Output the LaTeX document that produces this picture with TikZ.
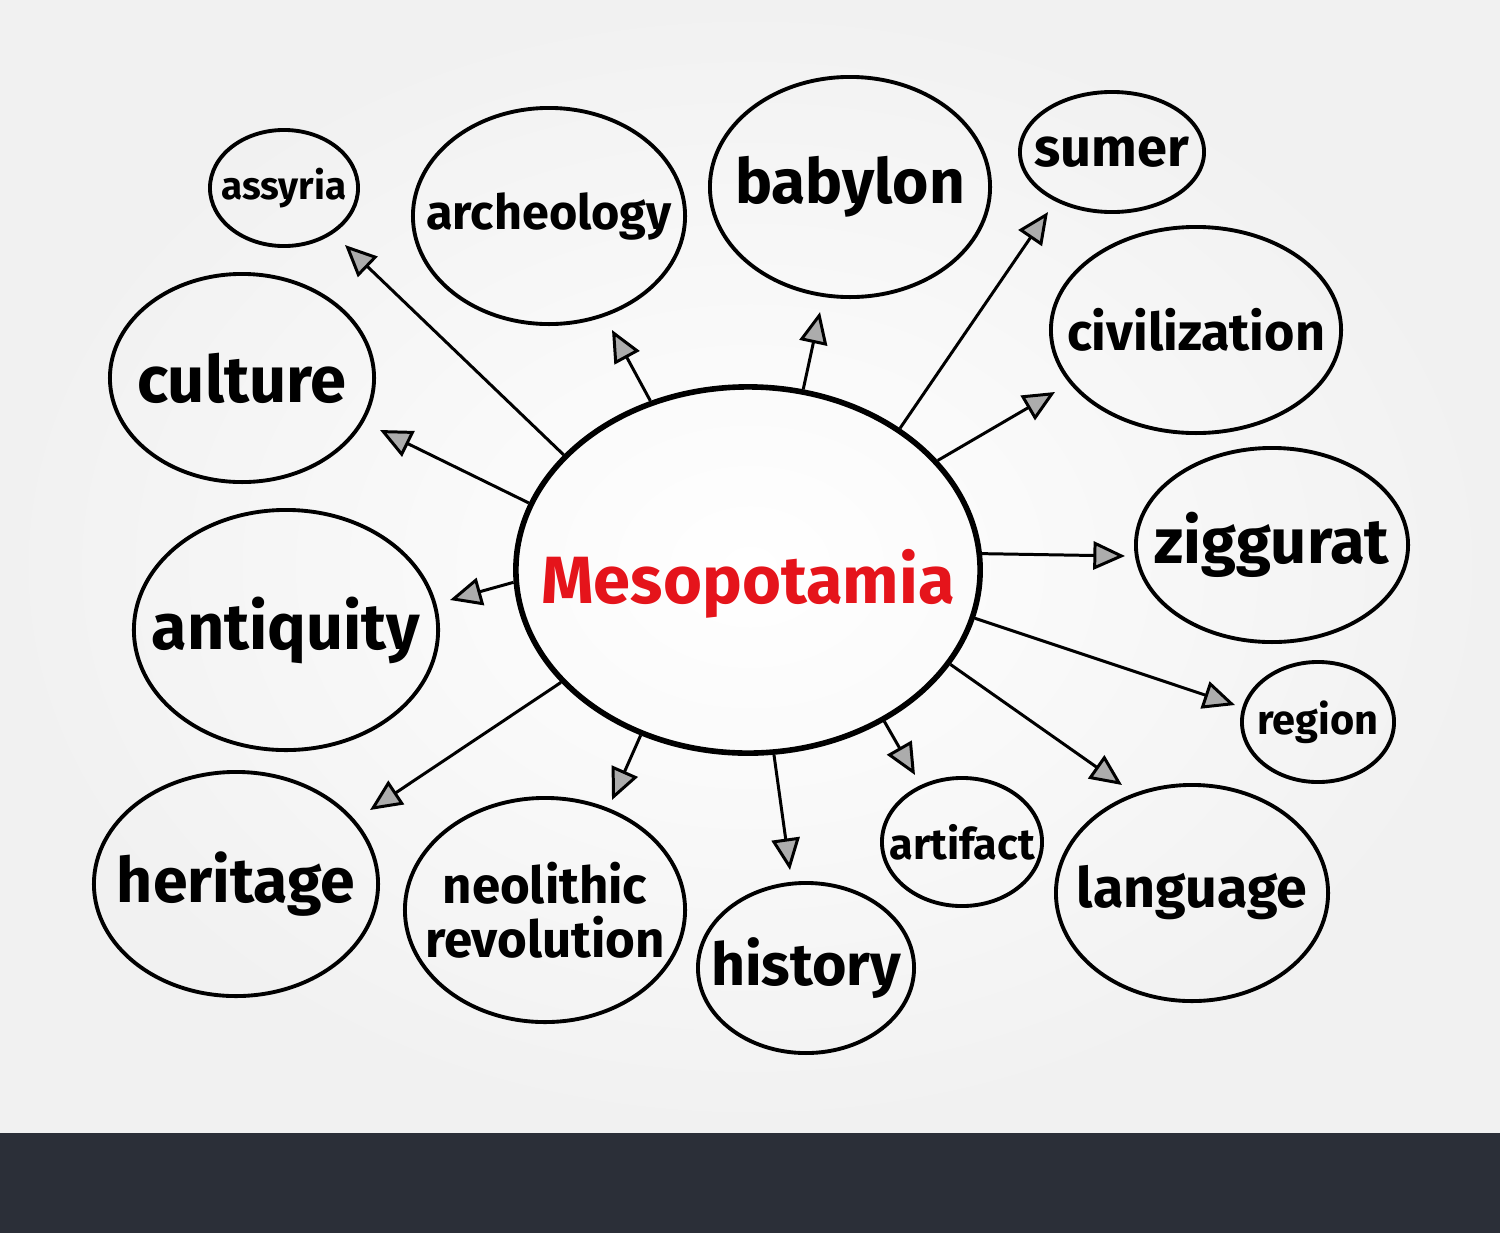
\documentclass[tikz,border=0pt]{standalone}
\usepackage{fontspec}
\setmainfont{Fira Sans}
\usetikzlibrary{arrows.meta, shapes.geometric}
\definecolor{mesored}{HTML}{E5141B}
\definecolor{bandgray}{HTML}{2B2F38}
\tikzset{
    %sketchy arrow tip
    >={Triangle[length=9pt,width=8pt,fill=gray!65]},
}
\begin{document}
\begin{tikzpicture}[x=0.01cm, y=-0.01cm,
    bub/.style = {draw, ellipse, line width=1.1pt, inner sep=0pt},
    arr/.style = {->, line width=0.85pt},
    every label/.style = {font=\bfseries, text=black},
  ]
  \useasboundingbox (0,0) rectangle (1500,1233);
  \shade[inner color=white, outer color=gray!11] (0,0) rectangle (1500,1133);
  \fill[bandgray] (0,1133) rectangle (1500,1233);

  \node[bub, line width=1.6pt, minimum width=4.64cm, minimum height=3.66cm,
        label={[text=mesored, yshift=-4pt]center:{\fontsize{19}{21}\selectfont Mesopotamia}}]
        (meso) at (748,570) {};

  \node[bub, minimum width=1.48cm, minimum height=1.16cm,
        label=center:{\fontsize{11}{13}\selectfont assyria}] (assyria) at (284,188) {};
  \node[bub, minimum width=2.72cm, minimum height=2.16cm,
        label=center:{\fontsize{13.8}{15}\selectfont archeology}] (archeology) at (549,216) {};
  \node[bub, minimum width=2.80cm, minimum height=2.20cm,
        label=center:{\fontsize{17.7}{19}\selectfont babylon}] (babylon) at (850,187) {};
  \node[bub, minimum width=1.84cm, minimum height=1.20cm,
        label=center:{\fontsize{15.4}{17}\selectfont sumer}] (sumer) at (1112,152) {};
  \node[bub, minimum width=2.90cm, minimum height=2.06cm,
        label=center:{\fontsize{14.8}{16}\selectfont civilization}] (civilization) at (1196,330) {};
  \node[bub, minimum width=2.64cm, minimum height=2.08cm,
        label=center:{\fontsize{18.5}{20}\selectfont culture}] (culture) at (242,378) {};
  \node[bub, minimum width=2.72cm, minimum height=1.94cm,
        label=center:{\fontsize{18}{20}\selectfont ziggurat}] (ziggurat) at (1272,545) {};
  \node[bub, minimum width=3.04cm, minimum height=2.40cm,
        label=center:{\fontsize{18.4}{20}\selectfont antiquity}] (antiquity) at (286,630) {};
  \node[bub, minimum width=1.52cm, minimum height=1.20cm,
        label=center:{\fontsize{11.8}{13}\selectfont region}] (region) at (1318,722) {};
  \node[bub, minimum width=2.84cm, minimum height=2.24cm,
        label=center:{\fontsize{17.8}{19}\selectfont heritage}] (heritage) at (236,884) {};
  \node[bub, minimum width=2.80cm, minimum height=2.24cm,
        label={[align=center, font=\bfseries\fontsize{14.5}{15.5}\selectfont]center:neolithic\\revolution}]
        (neolithic) at (545,910) {};
  \node[bub, minimum width=2.16cm, minimum height=1.70cm,
        label=center:{\fontsize{16.8}{18}\selectfont history}] (history) at (806,968) {};
  \node[bub, minimum width=1.60cm, minimum height=1.28cm,
        label=center:{\fontsize{12.3}{14}\selectfont artifact}] (artifact) at (962,842) {};
  \node[bub, minimum width=2.72cm, minimum height=2.16cm,
        label=center:{\fontsize{15.8}{17}\selectfont language}] (language) at (1192,893) {};

  % arrow ends
  \coordinate (assyria-tip) at (345,245);
  \coordinate (archeology-tip) at (612,330);
  \coordinate (babylon-tip) at (820,312);
  \coordinate (sumer-tip) at (1048,212);
  \coordinate (civilization-tip) at (1055,392);
  \coordinate (culture-tip) at (380,430);
  \coordinate (ziggurat-tip) at (1125,556);
  \coordinate (antiquity-tip) at (450,600);
  \coordinate (region-tip) at (1235,705);
  \coordinate (heritage-tip) at (370,810);
  \coordinate (neolithic-tip) at (612,800);
  \coordinate (history-tip) at (790,870);
  \coordinate (artifact-tip) at (915,775);
  \coordinate (language-tip) at (1122,785);

  \draw[arr] (meso.148) -- (assyria-tip);
  \draw[arr] (meso.120) -- (archeology-tip);
  \draw[arr] (meso.73) -- (babylon-tip);
  \draw[arr] (meso.43) -- (sumer-tip);
  \draw[arr] (meso.30) -- (civilization-tip);
  \draw[arr] (meso.163) -- (culture-tip);
  \draw[arr] (meso.4) -- (ziggurat-tip);
  \draw[arr] (meso.183) -- (antiquity-tip);
  \draw[arr] (meso.-12) -- (region-tip);
  \draw[arr] (meso.211) -- (heritage-tip);
  \draw[arr] (meso.237) -- (neolithic-tip);
  \draw[arr] (meso.278) -- (history-tip);
  \draw[arr] (meso.312) -- (artifact-tip);
  \draw[arr] (meso.335) -- (language-tip);
\end{tikzpicture}
\end{document}
